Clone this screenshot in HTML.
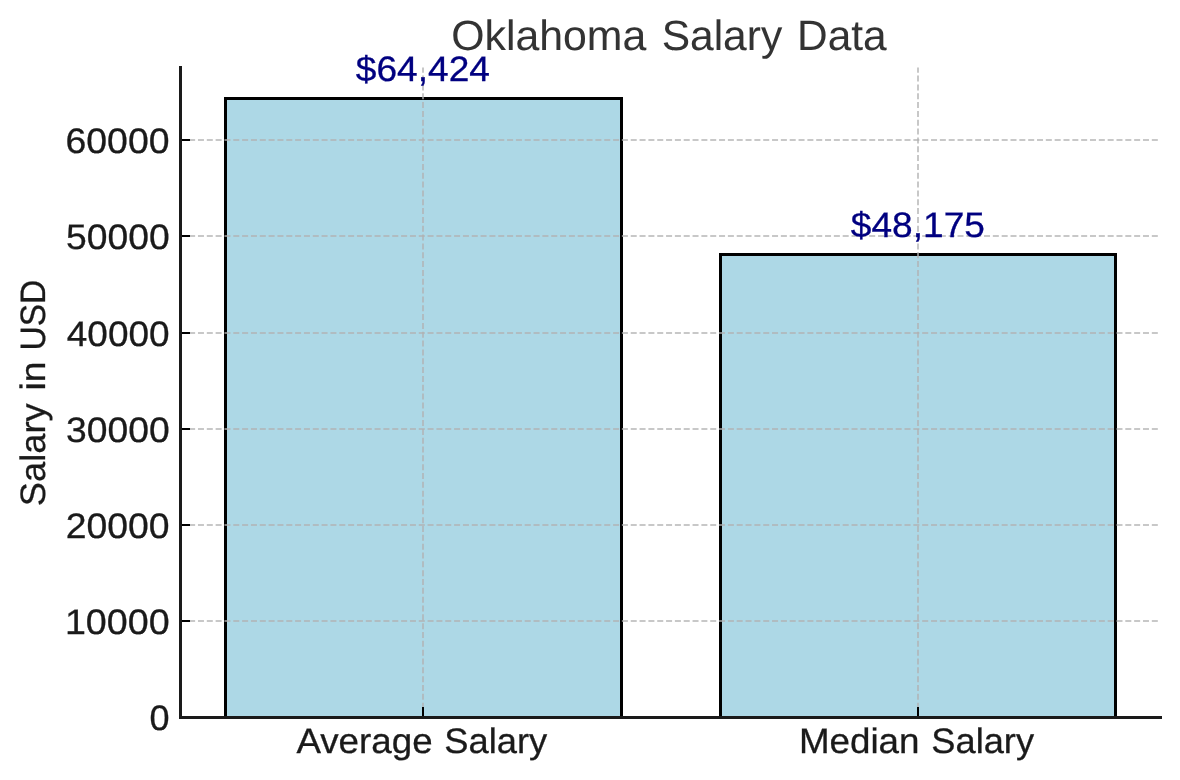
<!DOCTYPE html>
<html><head><meta charset="utf-8">
<style>
html,body{margin:0;padding:0;background:#fff;}
body{width:1180px;height:780px;overflow:hidden;}
svg{display:block;will-change:transform;}
text{font-family:"Liberation Sans",sans-serif;text-rendering:geometricPrecision;}
</style></head>
<body>
<svg width="1180" height="780" viewBox="0 0 1180 780">
<rect x="0" y="0" width="1180" height="780" fill="#fff"/>
<rect x="225.5" y="98.5" width="396" height="619" fill="#add8e6" stroke="#000" stroke-width="3"/>
<rect x="720.5" y="254.5" width="395" height="463" fill="#add8e6" stroke="#000" stroke-width="3"/>
<g stroke="#b0b0b0" stroke-opacity="0.7" stroke-width="2" stroke-dasharray="6 2.832" fill="none">
<line x1="180.3" y1="621.00" x2="1160" y2="621.00"/>
<line x1="180.3" y1="525.00" x2="1160" y2="525.00"/>
<line x1="180.3" y1="429.00" x2="1160" y2="429.00"/>
<line x1="180.3" y1="333.00" x2="1160" y2="333.00"/>
<line x1="180.3" y1="236.00" x2="1160" y2="236.00"/>
<line x1="180.3" y1="140.00" x2="1160" y2="140.00"/>
<line x1="423" y1="717.5" x2="423" y2="67.5"/>
<line x1="918" y1="717.5" x2="918" y2="67.5"/>
</g>
<g stroke="#000" stroke-width="2">
<line x1="180.5" y1="621.00" x2="190" y2="621.00"/>
<line x1="180.5" y1="525.00" x2="190" y2="525.00"/>
<line x1="180.5" y1="429.00" x2="190" y2="429.00"/>
<line x1="180.5" y1="333.00" x2="190" y2="333.00"/>
<line x1="180.5" y1="236.00" x2="190" y2="236.00"/>
<line x1="180.5" y1="140.00" x2="190" y2="140.00"/>
<line x1="423" y1="717.5" x2="423" y2="707"/>
<line x1="918" y1="717.5" x2="918" y2="707"/>
</g>
<g stroke="#1a1a1a" stroke-width="3">
<line x1="180.5" y1="66" x2="180.5" y2="719"/>
<line x1="179" y1="717.5" x2="1162" y2="717.5"/>
</g>
<text x="451.18" y="49.7" font-size="42.4" fill="#333333" stroke="#333333" stroke-width="0.05" textLength="195.17" lengthAdjust="spacingAndGlyphs">Oklahoma</text>
<text x="661.69" y="49.7" font-size="42.4" fill="#333333" stroke="#333333" stroke-width="0.05" textLength="120.46" lengthAdjust="spacingAndGlyphs">Salary</text>
<text x="797.05" y="49.7" font-size="42.4" fill="#333333" stroke="#333333" stroke-width="0.05" textLength="89.55" lengthAdjust="spacingAndGlyphs">Data</text>
<text x="355.84" y="81.1" font-size="35.3" fill="#000080" stroke="#000080" stroke-width="0.3" textLength="134.05" lengthAdjust="spacingAndGlyphs">$64,424</text>
<text x="850.84" y="236.9" font-size="35.3" fill="#000080" stroke="#000080" stroke-width="0.3" textLength="134.07" lengthAdjust="spacingAndGlyphs">$48,175</text>
<text x="149.52" y="730.2" font-size="35.3" fill="#1a1a1a" stroke="#1a1a1a" stroke-width="0.3" textLength="20.04" lengthAdjust="spacingAndGlyphs">0</text>
<text x="64.93" y="633.7" font-size="35.3" fill="#1a1a1a" stroke="#1a1a1a" stroke-width="0.3" textLength="104.7" lengthAdjust="spacingAndGlyphs">10000</text>
<text x="65.71" y="537.7" font-size="35.3" fill="#1a1a1a" stroke="#1a1a1a" stroke-width="0.3" textLength="103.91" lengthAdjust="spacingAndGlyphs">20000</text>
<text x="65.98" y="441.7" font-size="35.3" fill="#1a1a1a" stroke="#1a1a1a" stroke-width="0.3" textLength="103.64" lengthAdjust="spacingAndGlyphs">30000</text>
<text x="66.78" y="345.7" font-size="35.3" fill="#1a1a1a" stroke="#1a1a1a" stroke-width="0.3" textLength="102.84" lengthAdjust="spacingAndGlyphs">40000</text>
<text x="65.98" y="248.7" font-size="35.3" fill="#1a1a1a" stroke="#1a1a1a" stroke-width="0.3" textLength="103.64" lengthAdjust="spacingAndGlyphs">50000</text>
<text x="65.51" y="152.7" font-size="35.3" fill="#1a1a1a" stroke="#1a1a1a" stroke-width="0.3" textLength="104.01" lengthAdjust="spacingAndGlyphs">60000</text>
<text x="296.4" y="753.0" font-size="35.3" fill="#1a1a1a" stroke="#1a1a1a" stroke-width="0.3" textLength="136.2" lengthAdjust="spacingAndGlyphs">Average</text>
<text x="444.26" y="753.0" font-size="35.3" fill="#1a1a1a" stroke="#1a1a1a" stroke-width="0.3" textLength="103.01" lengthAdjust="spacingAndGlyphs">Salary</text>
<text x="798.9" y="753.0" font-size="35.3" fill="#1a1a1a" stroke="#1a1a1a" stroke-width="0.3" textLength="120.62" lengthAdjust="spacingAndGlyphs">Median</text>
<text x="931.36" y="753.0" font-size="35.3" fill="#1a1a1a" stroke="#1a1a1a" stroke-width="0.3" textLength="102.7" lengthAdjust="spacingAndGlyphs">Salary</text>
<g transform="translate(44.9,1000) rotate(-90)">
<text x="493.86" y="0" font-size="35.3" fill="#1a1a1a" stroke="#1a1a1a" stroke-width="0.3" textLength="102.91" lengthAdjust="spacingAndGlyphs">Salary</text>
<text x="609.4" y="0" font-size="35.3" fill="#1a1a1a" stroke="#1a1a1a" stroke-width="0.3" textLength="28.89" lengthAdjust="spacingAndGlyphs">in</text>
<text x="649.42" y="0" font-size="35.3" fill="#1a1a1a" stroke="#1a1a1a" stroke-width="0.3" textLength="70.83" lengthAdjust="spacingAndGlyphs">USD</text>
</g>
</svg>
</body></html>
